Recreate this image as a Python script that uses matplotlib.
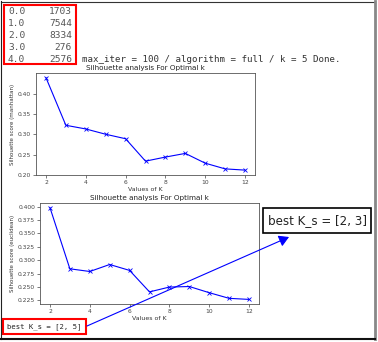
import matplotlib
matplotlib.use("Agg")
import matplotlib.pyplot as plt
from matplotlib.patches import Rectangle

# data
k_values = [2, 3, 4, 5, 6, 7, 8, 9, 10, 11, 12]
sil_manhattan = [0.439, 0.322, 0.313, 0.300, 0.289, 0.234, 0.244, 0.253, 0.229, 0.215, 0.212]
sil_euclidean = [0.398, 0.284, 0.279, 0.292, 0.281, 0.241, 0.250, 0.251, 0.2395, 0.229, 0.227]
cluster_ids = ["0.0", "1.0", "2.0", "3.0", "4.0"]
cluster_counts = [1703, 7544, 8334, 276, 2576]
run_info = "max_iter = 100 / algorithm = full / k = 5 Done."
best_small = "best K_s = [2, 5]"
best_big = "best K_s = [2, 3]"

W, H = 378, 342
fig = plt.figure(figsize=(W / 100, H / 100), dpi=100)
fig.patch.set_facecolor("white")


def px_axes(x0, y0, x1, y1):
    # pixel box (top-left origin) -> figure fraction
    return [x0 / W, 1 - y1 / H, (x1 - x0) / W, (y1 - y0) / H]


def style(ax, ylabel):
    ax.set_title("Silhouette analysis For Optimal k", fontsize=5.2, pad=2.5, color="#222222")
    ax.set_xlabel("Values of K", fontsize=4.5, labelpad=1.5, color="#333333")
    ax.set_ylabel(ylabel, fontsize=4, labelpad=2, color="#333333")
    ax.tick_params(labelsize=4.3, length=2, width=0.5, pad=1.5, colors="#444444")
    for s in ax.spines.values():
        s.set_linewidth(0.6)
        s.set_color("#555555")
    ax.set_xticks([2, 4, 6, 8, 10, 12])


ax1 = fig.add_axes(px_axes(36, 73, 255, 175))
ax1.plot(k_values, sil_manhattan, color="blue", marker="x", markersize=2.5,
         linewidth=0.8, markeredgewidth=0.6)
style(ax1, "Silhouette score (manhattan)")
ax1.set_yticks([0.20, 0.25, 0.30, 0.35, 0.40])
ax1.set_yticklabels(["0.20", "0.25", "0.30", "0.35", "0.40"])

ax2 = fig.add_axes(px_axes(40, 203, 259, 304))
ax2.plot(k_values, sil_euclidean, color="blue", marker="x", markersize=2.5,
         linewidth=0.8, markeredgewidth=0.6)
style(ax2, "Silhouette score (euclidean)")
yt = [0.225, 0.250, 0.275, 0.300, 0.325, 0.350, 0.375, 0.400]
ax2.set_yticks(yt)
ax2.set_yticklabels([f"{v:.3f}" for v in yt])

# overlay in pixel coordinates for the screenshot annotations
ov = fig.add_axes([0, 0, 1, 1], zorder=10)
ov.set_xlim(0, W)
ov.set_ylim(H, 0)
ov.axis("off")
ov.patch.set_alpha(0)

# outer frame of the screenshot
ov.plot([1, 375], [1.5, 1.5], color="#333333", lw=0.8)
ov.plot([1, 1], [1, 339], color="#222222", lw=0.8)
ov.plot([375, 375], [1, 339], color="#888888", lw=2)
ov.plot([1, 375], [338.5, 338.5], color="#111111", lw=1.5)

mono = "DejaVu Sans Mono"
for i, (cid, cnt) in enumerate(zip(cluster_ids, cluster_counts)):
    y = 12 + i * 11.8
    ov.text(8, y, cid, fontsize=6.8, family=mono, color="#555555", va="center")
    ov.text(72, y, str(cnt), fontsize=6.8, family=mono, color="#555555", va="center", ha="right")
ov.add_patch(Rectangle((4, 5), 72, 59, fill=False, edgecolor="red", lw=1.5))

ov.text(82, 59, run_info, fontsize=6.6, family=mono, color="#333333", va="center")

ov.text(7, 326.5, best_small, fontsize=5.2, family=mono, color="#222222", va="center")
ov.add_patch(Rectangle((3, 319), 83, 15, fill=False, edgecolor="red", lw=1.5))

ov.text(317, 221, best_big, fontsize=8.6, family="DejaVu Sans",
        color="#222222", va="center", ha="center")
ov.add_patch(Rectangle((263, 208), 108, 25, fill=False, edgecolor="black", lw=1.2))

ov.annotate("", xy=(289, 237), xytext=(87, 326),
            arrowprops=dict(arrowstyle="-|>,head_length=0.6,head_width=0.35",
                            color="blue", lw=0.8, shrinkA=0, shrinkB=0))

fig.savefig("out.png", dpi=100, facecolor="white")
